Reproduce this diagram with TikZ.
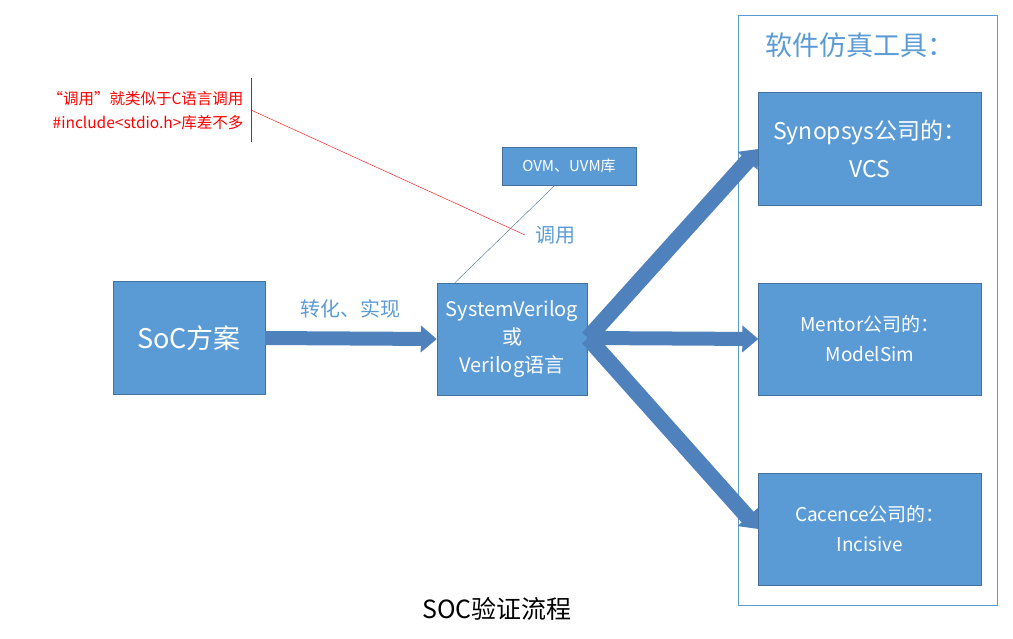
\documentclass[tikz,border=0pt]{standalone}
\usepackage{fontspec}
\setmainfont{Noto Sans CJK SC}
\usetikzlibrary{arrows.meta}
\definecolor{bfill}{HTML}{5B9BD5}
\definecolor{bdraw}{HTML}{41719C}
\definecolor{arr}{HTML}{4F81BD}
\definecolor{btext}{HTML}{5B9BD5}
\begin{document}
\begin{tikzpicture}[x=1pt,y=-1pt,
 box/.style={draw=bdraw,fill=bfill,text=white,align=center,inner sep=0pt},
 barrow/.style={arr,line width=14pt,-{Triangle[length=16pt,width=26pt]}},
 lbl/.style={text=btext,font=\fontsize{20}{22}\selectfont}]
\useasboundingbox (0,0) rectangle (1013,638);
\node[draw=btext,fill=white,minimum width=259,minimum height=590,anchor=north west] (frame) at (738,15) {};
\node[box,minimum width=152,minimum height=113,font=\fontsize{27}{28}\selectfont] (soc) at (189,338) {SoC方案};
\node[box,minimum width=150,minimum height=112,font=\fontsize{20}{28}\selectfont] (sv) at (512,339) {SystemVerilog\\或\\Verilog语言};
\node[box,minimum width=134,minimum height=38,font=\fontsize{15}{16}\selectfont] (ovm) at (569,166) {OVM、UVM库};
\node[box,minimum width=223,minimum height=113,font=\fontsize{23}{38}\selectfont] (syn) at (870,149) {Synopsys公司的：\\VCS};
\node[box,minimum width=223,minimum height=112,font=\fontsize{19}{30}\selectfont] (men) at (870,339) {Mentor公司的：\\ModelSim};
\node[box,minimum width=223,minimum height=112,font=\fontsize{19}{30}\selectfont] (cac) at (870,529) {Cacence公司的：\\Incisive};
\node[lbl,font=\fontsize{27}{28}\selectfont] (title) at (860,45) {软件仿真工具：};
\draw[barrow] (soc.east) -- (sv.west);
\node[lbl] (zh) at (350,309) {转化、实现};
\coordinate (o) at (588,338);
\draw[barrow,line width=16pt] (o) -- (syn.west);
\draw[barrow] (o) -- (men.west);
\draw[barrow,line width=16pt] (o) -- (cac.west);
\draw[bdraw,thin] ([xshift=-14]ovm.south) -- ([xshift=18]sv.north west);
\node[lbl] (dy) at (555,235) {调用};
\coordinate (rl) at (251,110);
\draw[red] (251,78) -- (251,142);
\draw[red] (rl) -- (525,235);
\node[text=red,align=right,anchor=east,font=\fontsize{15.5}{24}\selectfont] (note) at (247,111) {“调用”就类似于C语言调用\\\#include<stdio.h>库差不多};
\node[font=\fontsize{25}{26}\selectfont] (cap) at (497,609) {SOC验证流程};
\end{tikzpicture}
\end{document}
